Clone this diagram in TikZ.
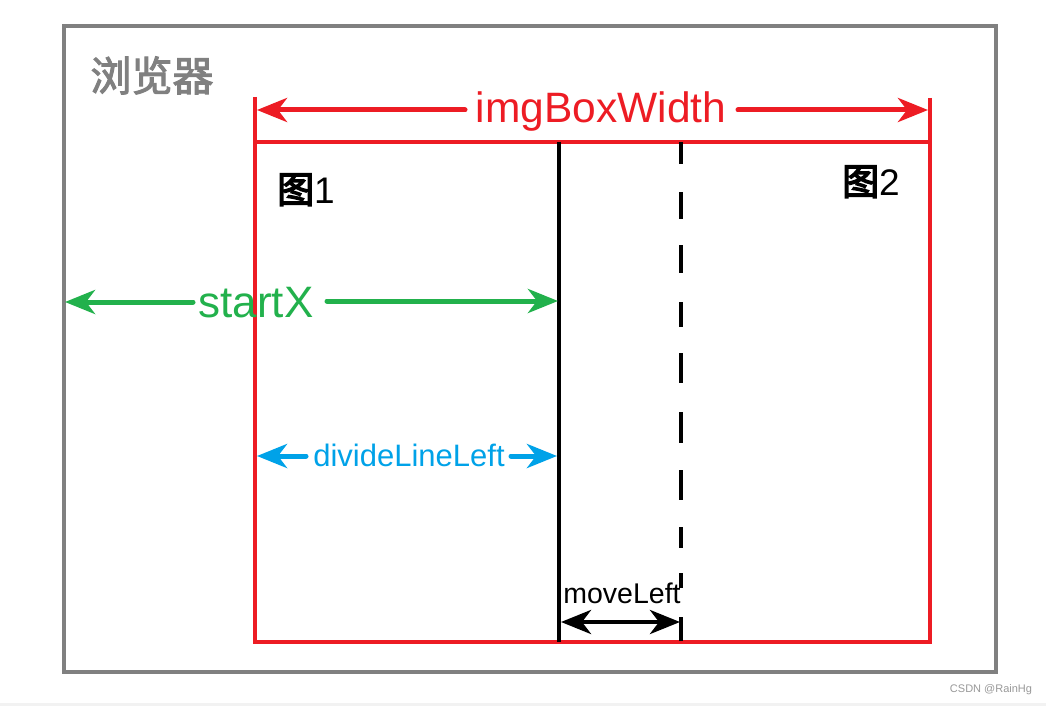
\documentclass[tikz,border=0pt]{standalone}
\usepackage{fontspec}
\setmainfont{Liberation Sans}
\newfontfamily\cjk{Noto Sans CJK SC}[FakeBold=4]
\newfontfamily\cjkmed{Noto Sans CJK SC}[FakeBold=2.5]
\usetikzlibrary{arrows.meta}
\definecolor{pRed}{HTML}{ED1C24}
\definecolor{pGreen}{HTML}{22B14C}
\definecolor{pBlue}{HTML}{00A2E8}
\definecolor{pGray}{HTML}{808080}
\tikzset{
  frame/.style={draw=pGray,line width=3.5},
  imgbox/.style={draw=pRed,line width=3.5},
  divline/.style={draw=black,line width=3.5},
  dimline/.style={line width=5,line cap=round},
  tipend/.style={-{Stealth[length=30,width=24,inset=9]}},
  lbl/.style={inner sep=0,anchor=base},
}
\begin{document}
\begin{tikzpicture}[x=1pt,y=-1pt]
\useasboundingbox (0,0) rectangle (1046,706);
\fill[white] (0,0) rectangle (1046,706);
\fill[black!5] (0,703) rectangle (1046,706);

% browser frame
\draw[frame] (64,26) rectangle (996,672);
\node[lbl,text=pGray,font=\cjkmed\fontsize{41}{48}\selectfont] (browser) at (152,91) {浏览器};

% image box
\draw[imgbox] (255,142) rectangle (930,642);
\node[lbl,font=\fontsize{37}{42}\selectfont] (pic1) at (306,203) {{\cjk 图}1};
\node[lbl,font=\fontsize{37}{42}\selectfont] (pic2) at (871,195) {{\cjk 图}2};

% divide line (solid) and moved line (dashed)
\coordinate (solidT) at (559,142);
\coordinate (solidB) at (559,642);
\draw[divline] (solidT) -- (solidB);
\foreach \a/\b in {142/164,192/219,245/273,302/327,353/383,412/443,470/500,527/548,573/588,617/641}
  \draw[divline] (681,\a) -- (681,\b);

% imgBoxWidth dimension
\coordinate (tickLT) at (255,97);
\coordinate (tickLB) at (255,142);
\coordinate (tickRT) at (930,98);
\coordinate (tickRB) at (930,142);
\draw[draw=pRed,line width=3.5] (tickLT) -- (tickLB);
\draw[draw=pRed,line width=3.5] (tickRT) -- (tickRB);
\node[lbl,text=pRed,font=\fontsize{42.5}{50}\selectfont] (imgw) at (601,122) {imgBoxWidth};
\coordinate (imgwL) at (465,110);
\coordinate (imgwR) at (738,110);
\coordinate (imgwLtip) at (257,110);
\coordinate (imgwRtip) at (928,110);
\draw[dimline,draw=pRed,fill=pRed,tipend] (imgwL) -- (imgwLtip);
\draw[dimline,draw=pRed,fill=pRed,tipend] (imgwR) -- (imgwRtip);

% startX
\node[lbl,text=pGreen,font=\fontsize{44}{50}\selectfont] (sx) at (256,317) {startX};
\coordinate (sxL) at (193,302);
\coordinate (sxR) at (327,301);
\coordinate (sxLtip) at (65,302);
\coordinate (sxRtip) at (558,301);
\draw[dimline,draw=pGreen,fill=pGreen,tipend] (sxL) -- (sxLtip);
\draw[dimline,draw=pGreen,fill=pGreen,tipend] (sxR) -- (sxRtip);

% divideLineLeft
\node[lbl,text=pBlue,font=\fontsize{31}{36}\selectfont] (dll) at (409,466) {divideLineLeft};
\coordinate (dllL) at (306,456);
\coordinate (dllR) at (511,456);
\coordinate (dllLtip) at (257,456);
\coordinate (dllRtip) at (557,456);
\draw[dimline,draw=pBlue,fill=pBlue,tipend] (dllL) -- (dllLtip);
\draw[dimline,draw=pBlue,fill=pBlue,tipend] (dllR) -- (dllRtip);

% moveLeft
\node[lbl,font=\fontsize{28.5}{34}\selectfont] (ml) at (622,603) {moveLeft};
\coordinate (mlL) at (561,622);
\coordinate (mlR) at (680,622);
\draw[line width=4.5,{Stealth[length=30,width=24,inset=9]}-{Stealth[length=30,width=24,inset=9]}] (mlL) -- (mlR);

% watermark
\node[text=black!40,font=\fontsize{11}{13}\selectfont,inner sep=0] (wm) at (991,690) {CSDN @RainHg};
\end{tikzpicture}
\end{document}
